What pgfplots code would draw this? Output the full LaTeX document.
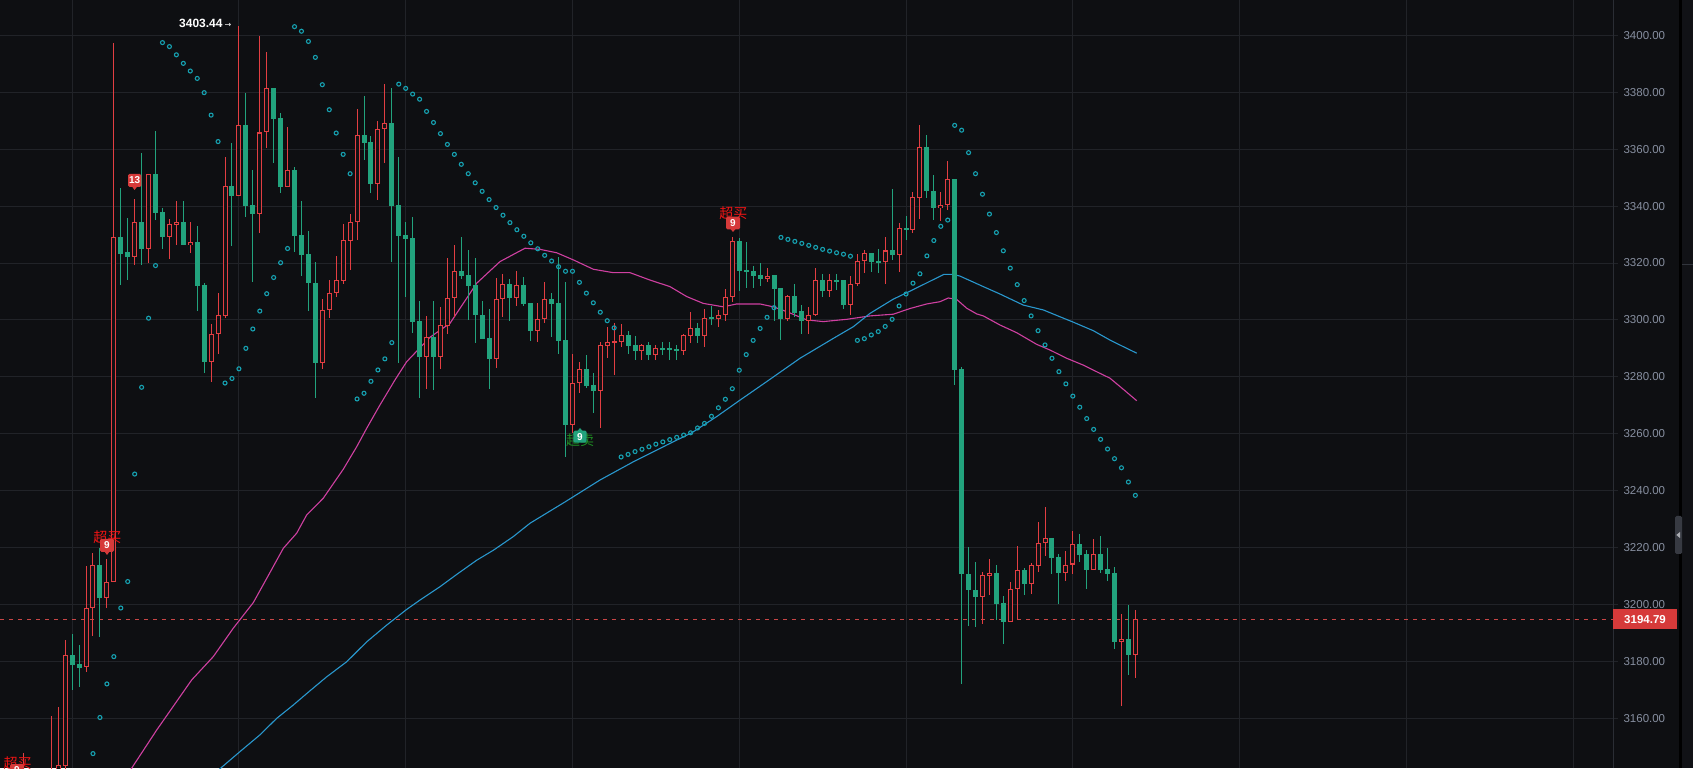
\documentclass[border=0pt]{standalone}
\usepackage{pgfplots}
\pgfplotsset{compat=1.18}
\usepackage{pgfplotstable}
\usepackage{fontspec}
\setmainfont{Liberation Sans}
\newfontfamily\cjk{Noto Sans CJK SC}
\newfontfamily\dejavu{DejaVu Sans}
\definecolor{bg}{RGB}{14,15,18}
\definecolor{gridc}{RGB}{33,35,40}
\definecolor{upred}{RGB}{226,62,66}
\definecolor{hollow}{RGB}{20,17,20}
\definecolor{dngreen}{RGB}{34,163,125}
\definecolor{sarc}{RGB}{22,160,176}
\definecolor{pinkc}{RGB}{207,64,161}
\definecolor{bluec}{RGB}{41,151,205}
\definecolor{axtext}{RGB}{135,143,160}
\definecolor{labred}{RGB}{214,58,58}
\definecolor{txtred}{RGB}{240,20,20}
\definecolor{txtgreen}{RGB}{30,140,35}
\definecolor{dashc}{RGB}{200,70,70}
\definecolor{sepc}{RGB}{42,45,52}

\pgfplotstableread{
i o h l c
-4 3115 3147.8 3100 3130
0 3125 3160.7 3120 3138
1 3130 3164 3125 3143.5
2 3143 3187.5 3141 3182.3
3 3182.3 3189.4 3169.7 3178.8
4 3179 3185.8 3171 3177.6
5 3177.8 3213.4 3176.3 3198.7
6 3198.7 3218 3188.9 3213.9
7 3213.9 3219.8 3188.4 3202.2
8 3202.2 3216 3198.7 3207.8
9 3207.8 3397.5 3207.8 3329.2
10 3329.2 3346.5 3312.2 3323.3
11 3323.8 3335.9 3313.9 3322
12 3322 3342.4 3319.4 3334.3
13 3334.3 3358.6 3319.4 3325
14 3325 3351.3 3320 3351.3
15 3351.3 3366.4 3335.2 3337.7
16 3337.8 3339.2 3325 3329.2
17 3329.2 3335.4 3321.4 3333.6
18 3333.5 3341.9 3326.2 3334.5
19 3334.5 3341.9 3326.2 3326.2
20 3326.2 3334.5 3323.7 3327.3
21 3327.3 3333 3303 3312
22 3312.1 3312.8 3281.5 3285.2
23 3285.2 3298.7 3278 3295
24 3295 3309.5 3288 3301.6
25 3301.3 3357.1 3300.8 3347
26 3347 3362.1 3325.9 3343.5
27 3343.7 3403.44 3343.5 3368.4
28 3368.4 3379.7 3336.3 3340.2
29 3340.3 3352.7 3313.4 3337.1
30 3337.1 3399.8 3330.4 3365.9
31 3365.9 3394.1 3360.3 3381.4
32 3381.4 3381.4 3355 3370.8
33 3370.9 3372.6 3344.5 3346.8
34 3346.8 3367.8 3346.8 3352.6
35 3352.6 3353.8 3323.8 3329.6
36 3329.7 3341.8 3315.4 3322.9
37 3323 3331.4 3303.3 3312.9
38 3312.9 3320.4 3272.4 3284.7
39 3284.7 3307.3 3282.9 3303.4
40 3303.5 3314 3300.5 3309.3
41 3309.3 3322.5 3308.2 3314
42 3313.8 3333.8 3312.6 3328.1
43 3327.9 3337.2 3317.5 3334.3
44 3334.3 3374.2 3328.1 3365
45 3365 3378.7 3356.2 3362.3
46 3362.4 3364.8 3344.7 3347.8
47 3347.8 3370 3342.2 3367.3
48 3367.2 3382.9 3355 3369.1
49 3369.1 3381.5 3320.5 3340.2
50 3340.3 3357.1 3284.9 3329.6
51 3329.7 3334.3 3308.2 3328.5
52 3328.7 3336.3 3295.4 3299.3
53 3299.6 3306.7 3272.4 3287
54 3287 3301.4 3275.6 3293.9
55 3293.9 3306.7 3275.4 3286.8
56 3286.8 3304.4 3282.6 3298.1
57 3298 3321.7 3295 3307.6
58 3307.6 3326.3 3301 3317.1
59 3317.2 3329 3314.4 3315.6
60 3315.7 3324.5 3300 3312.1
61 3312.3 3321.9 3291.7 3301.7
62 3301.9 3306.7 3293.4 3293.4
63 3293.5 3303.7 3275.7 3286.4
64 3286.4 3314.6 3283.2 3307.3
65 3307.3 3316.1 3301 3312.5
66 3312.5 3314.3 3299.7 3307.8
67 3307.8 3317.3 3305 3312.2
68 3312.2 3315.2 3304.9 3305.6
69 3305.8 3305.8 3292.7 3296.2
70 3296.2 3305.8 3292.1 3300.4
71 3300.4 3313.4 3299 3307.3
72 3307.3 3309.3 3293.9 3305.7
73 3305.8 3322 3287.9 3292.7
74 3292.9 3313.5 3251.8 3263.1
75 3263.1 3288 3260.1 3277.7
76 3277.7 3285.3 3274.2 3282.6
77 3282.6 3287.6 3275.9 3276.8
78 3277.1 3281.2 3267.1 3275.1
79 3275.1 3292.4 3261.9 3291.1
80 3290.9 3297.4 3286.5 3292.1
81 3292 3298.8 3280.6 3292.5
82 3292.4 3298.5 3290.6 3294.6
83 3294.7 3296 3288 3290.8
84 3291.2 3294.4 3285.9 3288.9
85 3288.9 3291.6 3285.9 3291.2
86 3291.2 3292.4 3285.9 3287.5
87 3287.5 3291.2 3285.9 3290
88 3290 3292.4 3287.5 3289.7
89 3290 3292.4 3285.9 3289.7
90 3289.7 3291.2 3285.9 3289.3
91 3289.2 3295 3287.5 3294.7
92 3294.5 3302.7 3291.8 3297.3
93 3297.3 3298.8 3291.8 3294.5
94 3294.5 3303.7 3290.4 3300.6
95 3300.9 3304.9 3298.2 3300.6
96 3300.4 3303.5 3297.6 3301.6
97 3301.6 3310.8 3299.7 3308.2
98 3308.2 3329.2 3306.2 3327.7
99 3327.7 3328.7 3310.3 3317.3
100 3317.5 3327.3 3311.2 3316.9
101 3317.2 3319 3311.2 3315.5
102 3315.7 3319.9 3311.9 3314.4
103 3314.4 3318.4 3313.3 3315.6
104 3315.7 3315.7 3299.6 3310.9
105 3311.2 3311.2 3292.8 3300.2
106 3300.2 3308.9 3299.5 3308.5
107 3308.5 3312.6 3300.9 3302.6
108 3303 3305.3 3294.9 3299.6
109 3299.6 3304.7 3295.1 3301.8
110 3301.8 3318.4 3301.2 3314.1
111 3314.1 3316.1 3308 3310.1
112 3310.1 3316.1 3308 3314.1
113 3314.1 3316.1 3310.4 3313.6
114 3313.9 3314.1 3304 3305.1
115 3305.1 3315.4 3301.7 3312.7
116 3312.7 3323.3 3311.9 3320.7
117 3320.8 3324.4 3316.5 3323.5
118 3323.5 3323.5 3317 3320.2
119 3320.7 3325.1 3316.5 3320.2
120 3320.2 3329.1 3312.5 3324.4
121 3324.6 3345.9 3321.1 3322.8
122 3322.8 3334.2 3317 3332.2
123 3332.2 3336.6 3328.2 3331.6
124 3331.6 3345 3330.5 3343.1
125 3343 3368.5 3335.3 3360.7
126 3360.7 3365.1 3343 3345.4
127 3345.4 3351 3335.1 3339.4
128 3339.4 3345 3334.9 3340.3
129 3340.3 3355.8 3338.7 3349.5
130 3349.5 3349.5 3277.1 3282.5
131 3282.8 3283.4 3172.1 3210.5
132 3210.5 3220.2 3192.4 3204.9
133 3205 3215 3192.1 3202.7
134 3202.7 3211.5 3193.1 3210.3
135 3210.1 3215.9 3203.3 3210.9
136 3210.9 3213.8 3194.5 3200.1
137 3200.3 3202.9 3186 3193.9
138 3193.9 3207.9 3193.9 3205.3
139 3205.3 3220.5 3195 3212.1
140 3212.1 3212.9 3203.3 3207.1
141 3207.1 3214.7 3203.6 3213.8
142 3213.5 3229 3211.3 3221.7
143 3221.4 3234.1 3217 3223.2
144 3223.2 3223.2 3210.6 3216.4
145 3216.5 3217.7 3200.1 3211.1
146 3211.1 3218.9 3208.3 3214
147 3214 3225.9 3210.6 3221.1
148 3221.1 3224.7 3215 3217.3
149 3217.7 3219.1 3205.4 3212.1
150 3212.1 3222.8 3212.1 3217.6
151 3217.7 3224 3211.1 3212.1
152 3212.3 3219.7 3208.3 3210.6
153 3210.9 3213 3184.2 3186.9
154 3186.9 3196.6 3164.2 3187.7
155 3187.7 3199.7 3175.1 3182.2
156 3182.2 3198 3174 3194.79
}\candles

\pgfplotstableread{
i p
6 3147.5
7 3160.2
8 3172
9 3181.6
10 3198.7
11 3208
12 3245.8
13 3276.3
14 3300.6
15 3319.1
16 3397.5
17 3396.1
18 3393.2
19 3390.2
20 3387.5
21 3384.9
22 3379.9
23 3372
24 3362.7
25 3277.8
26 3279.4
27 3282.8
28 3290
29 3296.8
30 3303.1
31 3309.2
32 3314.9
33 3320.1
34 3325.1
35 3403.1
36 3401.5
37 3397.9
38 3392.3
39 3382.7
40 3373.9
41 3365.7
42 3358.2
43 3351.4
44 3272.2
45 3274.2
46 3278.4
47 3282.4
48 3286.3
49 3292
50 3382.9
51 3381.4
52 3379.4
53 3377.6
54 3373.3
55 3369.4
56 3365.5
57 3361.7
58 3358.2
59 3354.7
60 3351.4
61 3348.2
62 3345.2
63 3342.3
64 3339.5
65 3336.8
66 3334.2
67 3331.7
68 3329.4
69 3327.1
70 3325
71 3322.7
72 3320.7
73 3318.7
74 3317.1
75 3317.1
76 3313.2
77 3309.4
78 3306
79 3302.7
80 3299.7
81 3297.2
82 3251.8
83 3252.7
84 3253.7
85 3254.5
86 3255.4
87 3256.3
88 3257.1
89 3257.9
90 3258.7
91 3259.5
92 3260.3
93 3262
94 3263.6
95 3266.1
96 3269.1
97 3272.1
98 3275.8
99 3282.3
100 3287.8
101 3292.8
102 3297
103 3300.9
104 3304.3
105 3329
106 3328.3
107 3327.6
108 3326.9
109 3326.2
110 3325.5
111 3324.8
112 3324.2
113 3323.6
114 3323.1
115 3322.4
116 3292.8
117 3293.4
118 3294.7
119 3295.9
120 3297.7
121 3300.2
122 3304.9
123 3309.1
124 3312.9
125 3316.2
126 3322.5
127 3327.9
128 3332.9
129 3335.1
130 3368.4
131 3366.7
132 3358.8
133 3351.4
134 3344.2
135 3337.2
136 3330.7
137 3324.3
138 3318.2
139 3312.4
140 3306.8
141 3301.4
142 3296.2
143 3291.2
144 3286.5
145 3281.8
146 3277.5
147 3273.2
148 3269.3
149 3265.3
150 3261.5
151 3258
152 3254.6
153 3251.2
154 3248
155 3243
156 3238.3
}\sar

\begin{document}
\begin{tikzpicture}[x=1pt,y=1pt]
\fill[bg] (0,0) rectangle (1693,768);
\begin{axis}[
  at={(0,0)}, anchor=south west,
  width=1613pt, height=768pt, scale only axis,
  xmin=-7.382, xmax=224.74, ymin=3142.44, ymax=3412.48,
  axis line style={draw=none},
  xtick={3,27,51,75,99,123,147,171,195,219},
  xticklabels={},
  x tick style={draw=none},
  ytick={3160,3180,3200,3220,3240,3260,3280,3300,3320,3340,3360,3380,3400},
  yticklabels={3160.00,3180.00,3200.00,3220.00,3240.00,3260.00,3280.00,3300.00,3320.00,3340.00,3360.00,3380.00,3400.00},
  ytick pos=right, yticklabel pos=right,
  tick align=outside, major tick length=5pt,
  y tick style={draw=gridc, line width=1pt},
  yticklabel style={font=\fontsize{11.5}{13}\selectfont, text=axtext, xshift=2pt},
  xmajorgrids, ymajorgrids,
  major grid style={draw=gridc, line width=1pt},
  clip=true,
]
% current price line
\addplot[dashc, line width=1pt, dash pattern=on 4pt off 5pt, forget plot] coordinates {(-7.382,3194.79) (224.74,3194.79)};
% moving averages
\addplot[pinkc, line width=1.1pt, forget plot] coordinates {
(9.17,3133.5) (11.57,3142.4) (15.17,3155.8) (20.20,3173.4) (23.31,3181.6) (26.19,3191.6) (29.07,3200.6) (31.0,3209.1) (33.39,3219.7) (35.31,3225) (36.75,3231.4) (39.14,3237.3) (42.02,3247.5) (43.95,3255.4) (45.39,3261.9) (47.30,3270.1) (49.46,3278.9) (51.14,3285.3) (54.50,3293.9) (57.38,3298.8) (61.22,3312.9) (64.57,3320.5) (68.17,3325.2) (70.33,3324.8) (72.73,3323.6) (75.12,3321.1) (78.0,3317.8) (80.87,3316.6) (83.28,3316.6) (86.16,3314) (89.03,3311.7) (91.44,3308.2) (93.82,3305.8) (96.70,3304.6) (98.63,3305.6) (101.98,3305.6) (103.90,3304.6) (105.83,3302.9) (108.71,3300) (111.09,3299.4) (114.46,3300.2) (117.82,3301.4) (121.17,3302) (123.57,3304) (125.97,3305.6) (127.89,3306.4) (129.08,3307.7) (130.29,3307.2) (131.73,3304.1) (133.17,3302.1) (134.12,3301.4) (136.52,3298.2) (138.92,3295.5) (141.80,3291.4) (143.72,3289.4) (146.12,3286.5) (148.51,3284.1) (150.91,3281.2) (152.35,3279.5) (154.26,3275.6) (156.19,3271.6)
};
\addplot[bluec, line width=1.1pt, forget plot] coordinates {
(22.12,3137.6) (24.52,3142.7) (27.15,3148.2) (30.03,3154.1) (32.44,3159.9) (34.83,3164.6) (37.23,3169.6) (39.63,3174.5) (42.51,3179.8) (45.39,3186.8) (48.27,3192.7) (51.14,3198.2) (53.06,3201.5) (55.94,3206.2) (58.34,3210.5) (61.22,3215.5) (63.61,3219) (66.48,3223.8) (68.89,3228.5) (73.93,3236) (78.96,3243.7) (83.75,3250.1) (88.56,3256) (92.16,3260.3) (95.75,3266) (99.11,3271.8) (102.95,3278.3) (107.74,3286.5) (112.54,3293.5) (115.41,3297.6) (117.82,3302.3) (121.17,3307.3) (123.57,3310.1) (125.97,3313) (128.43,3316) (129.80,3316) (130.76,3315.4) (134.12,3311.7) (136.52,3309.1) (139.88,3305.2) (142.75,3303.5) (145.15,3301.1) (147.07,3299.2) (149.95,3296.2) (152.35,3292.9) (154.26,3290.6) (156.19,3288.3)
};
% parabolic SAR
\addplot[only marks, mark=o, mark size=2.0pt, mark options={draw=sarc, line width=1.1pt, fill=none}, forget plot] table[x=i, y=p]{\sar};
% wicks (up candles)
\addplot[draw=none, mark=none, forget plot,
  restrict expr to domain={\thisrow{c}-\thisrow{o}}{0:1000},
  error bars/.cd, y dir=both, y explicit, error mark=none,
  error bar style={draw=upred, line width=1pt, solid}]
  table[x=i, y expr={(\thisrow{h}+\thisrow{l})/2}, y error expr={(\thisrow{h}-\thisrow{l})/2}]{\candles};
% wicks (down candles)
\addplot[draw=none, mark=none, forget plot,
  restrict expr to domain={\thisrow{c}-\thisrow{o}}{-1000:0},
  error bars/.cd, y dir=both, y explicit, error mark=none,
  error bar style={draw=dngreen, line width=1pt, solid}]
  table[x=i, y expr={(\thisrow{h}+\thisrow{l})/2}, y error expr={(\thisrow{h}-\thisrow{l})/2}]{\candles};
% up bodies: outline
\addplot[draw=none, mark=none, forget plot,
  restrict expr to domain={\thisrow{c}-\thisrow{o}}{0:1000},
  error bars/.cd, y dir=both, y explicit, error mark=none,
  error bar style={draw=upred, line width=5pt, solid}]
  table[x=i, y expr={(\thisrow{o}+\thisrow{c})/2}, y error expr={max((\thisrow{c}-\thisrow{o})/2,0.2)}]{\candles};
% up bodies: hollow inside
\addplot[draw=none, mark=none, forget plot,
  restrict expr to domain={\thisrow{c}-\thisrow{o}}{0:1000},
  error bars/.cd, y dir=both, y explicit, error mark=none,
  error bar style={draw=hollow, line width=3pt, solid}]
  table[x=i, y expr={(\thisrow{o}+\thisrow{c})/2}, y error expr={max((\thisrow{c}-\thisrow{o})/2-0.36,0)}]{\candles};
% down bodies
\addplot[draw=none, mark=none, forget plot,
  restrict expr to domain={\thisrow{c}-\thisrow{o}}{-1000:0},
  error bars/.cd, y dir=both, y explicit, error mark=none,
  error bar style={draw=dngreen, line width=5pt, solid}]
  table[x=i, y expr={(\thisrow{o}+\thisrow{c})/2}, y error expr={max((\thisrow{o}-\thisrow{c})/2,0.2)}]{\candles};
\end{axis}

% ---- annotations ----
% high label
\node[anchor=west, inner sep=0pt, text=white, font=\bfseries\fontsize{12}{12}\selectfont] at (179,744.3) {3403.44\,{\dejavu\mdseries\fontsize{8}{8}\selectfont →}};
% "13" label
\fill[labred, rounded corners=1.5pt] (128,581) rectangle (141.3,594);
\fill[labred] (132,581.5) -- (137.2,581.5) -- (134.6,578) -- cycle;
\node[text=white, font=\bfseries\fontsize{10}{10}\selectfont, inner sep=0pt] at (134.65,587.5) {13};
% candle 8 label
\node[text=txtred, font=\cjk\fontsize{14}{14}\selectfont, inner sep=0pt] at (107.3,231) {超买};
\fill[labred, rounded corners=1.5pt] (100,216) rectangle (114,229);
\fill[labred] (104.5,216.5) -- (109.5,216.5) -- (107,213) -- cycle;
\node[text=white, font=\bfseries\fontsize{10}{10}\selectfont, inner sep=0pt] at (107,222.5) {9};
% candle 98 label
\node[text=txtred, font=\cjk\fontsize{14}{14}\selectfont, inner sep=0pt] at (733.3,555) {超买};
\fill[labred, rounded corners=1.5pt] (726,538.6) rectangle (740,551.3);
\fill[labred] (730.5,539) -- (735.5,539) -- (733,536) -- cycle;
\node[text=white, font=\bfseries\fontsize{10}{10}\selectfont, inner sep=0pt] at (733,545) {9};
% candle 76 label (green)
\node[text=txtgreen, font=\cjk\fontsize{14}{14}\selectfont, inner sep=0pt] at (580,327.5) {超卖};
\fill[dngreen, rounded corners=1.5pt] (573.3,325.3) rectangle (586.7,337.3);
\fill[dngreen] (577.5,337) -- (582.5,337) -- (580,340) -- cycle;
\node[text=white, font=\bfseries\fontsize{10}{10}\selectfont, inner sep=0pt] at (580,331.3) {9};
% bottom-left label
\node[text=txtred, font=\cjk\fontsize{14}{14}\selectfont, inner sep=0pt] at (17.5,5) {超买};
\fill[labred, rounded corners=1.5pt] (10,-9) rectangle (24,4);
\node[text=white, font=\bfseries\fontsize{10}{10}\selectfont, inner sep=0pt] at (17,-2.5) {9};

% ---- right price scale ----
\draw[sepc, line width=1pt] (1613.5,0) -- (1613.5,768);
\fill[labred] (1613,139.1) rectangle (1677,158.7);
\node[text=white, font=\bfseries\fontsize{11.5}{12}\selectfont, inner sep=0pt] at (1645,148.9) {3194.79};
\fill[black] (1679,0) rectangle (1682,768);
\fill[color={rgb,255:red,17;green,18;blue,22}] (1682,0) rectangle (1693,768);
\draw[color={rgb,255:red,50;green,53;blue,60}, line width=1pt] (1682,503.3) -- (1693,503.3);
\fill[color={rgb,255:red,55;green,58;blue,66}, rounded corners=1.5pt] (1675,214) rectangle (1682,252);
\fill[color={rgb,255:red,170;green,172;blue,178}] (1676.3,233) -- (1680,236) -- (1680,230) -- cycle;

\pgfresetboundingbox
\useasboundingbox (0,0) rectangle (1693,768);
\end{tikzpicture}
\end{document}
